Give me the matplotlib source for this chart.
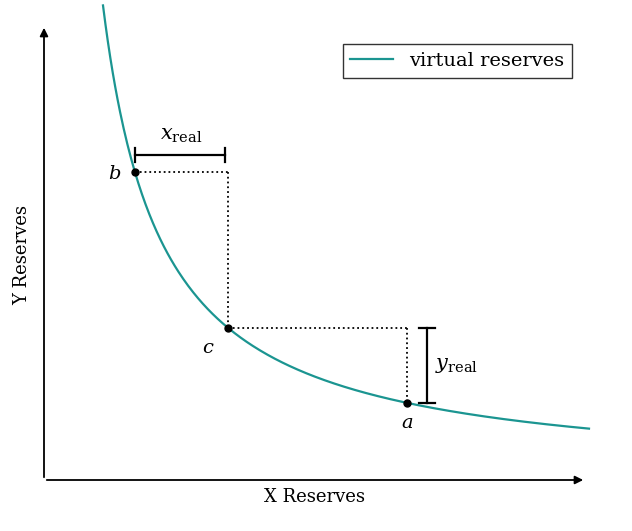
import numpy as np
import matplotlib.pyplot as plt

plt.rcParams['font.family'] = ['DejaVu Serif']
plt.rcParams['mathtext.fontset'] = 'dejavuserif'

K = 2.8
point_names = ['b', 'c', 'a']
point_x = [0.91, 1.84, 3.63]
point_y = [K / x for x in point_x]
curve_x = np.linspace(0.59, 5.45, 400)
curve_y = K / curve_x
teal = '#1b9591'

fig = plt.figure(figsize=(6.32, 5.31), dpi=100)
ax = fig.add_axes([0, 0, 1, 1])
ax.set_xlim(-0.44, 5.88)
ax.set_ylim(-0.51, 4.80)
ax.axis('off')

# axes arrows
ax.annotate('', xy=(5.42, 0), xytext=(0, 0),
            arrowprops=dict(arrowstyle='-|>', color='black', lw=1.3, mutation_scale=12))
ax.annotate('', xy=(0, 4.55), xytext=(0, 0),
            arrowprops=dict(arrowstyle='-|>', color='black', lw=1.3, mutation_scale=12))
ax.text(2.71, -0.17, 'X Reserves', ha='center', va='center', fontsize=13)
ax.text(-0.22, 2.25, 'Y Reserves', ha='center', va='center', fontsize=13, rotation=90)

ax.plot(curve_x, curve_y, color=teal, lw=1.6, label='virtual reserves')

bx, cx, axx = point_x
by, cy, ay = point_y
dot = dict(color='black', ls=':', lw=1.3)
ax.plot([bx, cx], [by, by], **dot)
ax.plot([cx, cx], [by, cy], **dot)
ax.plot([cx, axx], [cy, cy], **dot)
ax.plot([axx, axx], [cy, ay], **dot)
ax.plot(point_x, point_y, 'o', color='black', ms=5)
ax.text(bx - 0.2, by - 0.02, '$b$', fontsize=14, ha='center', va='center')
ax.text(cx - 0.2, cy - 0.2, '$c$', fontsize=14, ha='center', va='center')
ax.text(axx, ay - 0.2, '$a$', fontsize=14, ha='center', va='center')

# x_real bracket
yb = by + 0.17
ax.plot([bx, cx - 0.03], [yb, yb], color='black', lw=1.6)
ax.plot([bx, bx], [yb - 0.07, yb + 0.07], color='black', lw=1.6)
ax.plot([cx - 0.03, cx - 0.03], [yb - 0.07, yb + 0.07], color='black', lw=1.6)
ax.text((bx + cx) / 2, yb + 0.2, r'$x_{\mathrm{real}}$', fontsize=15, ha='center', va='center')

# y_real bracket
xb = axx + 0.2
ax.plot([xb, xb], [ay, cy], color='black', lw=1.6)
ax.plot([xb - 0.08, xb + 0.08], [ay, ay], color='black', lw=1.6)
ax.plot([xb - 0.08, xb + 0.08], [cy, cy], color='black', lw=1.6)
ax.text(xb + 0.3, (ay + cy) / 2, r'$y_{\mathrm{real}}$', fontsize=15, ha='center', va='center')

leg = ax.legend(loc='upper right', bbox_to_anchor=(0.92, 0.935), fontsize=14,
                frameon=True, fancybox=False, edgecolor='black', handlelength=2.2)
leg.get_frame().set_linewidth(1.0)

fig.savefig('out.png', dpi=100)
